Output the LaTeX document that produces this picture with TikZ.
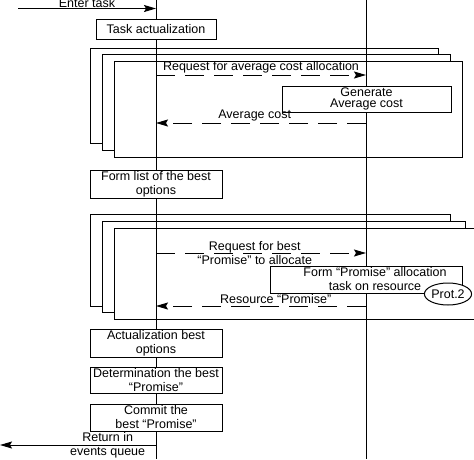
\documentclass[tikz,border=0pt]{standalone}
\usepackage{fontspec}
\setmainfont{Liberation Sans}
\usetikzlibrary{shapes,arrows.meta,positioning}

\begin{document}
\begin{tikzpicture}[x=1pt,y=-1pt]
        \tikzstyle{every path}=[line width=1pt]

        \tikzstyle{frame}=[draw,fill=white]
        \tikzstyle{act}=[draw,fill=white,inner sep=0pt,minimum width=132pt,minimum height=28pt]
        \tikzstyle{txt}=[draw=none,align=center,inner sep=0pt,font=\fontsize{12.5}{14}\selectfont]
        \tikzstyle{lbl}=[txt,inner sep=1.5pt]
        \tikzstyle{msg}=[-{Stealth[length=12pt,width=7pt,inset=2pt]}]
        \tikzstyle{dmsg}=[msg,dash pattern=on 19pt off 10pt]

        \useasboundingbox (0,0) rectangle (474,459);

        % stacked frames (loops)
        \foreach \i in {0,1,2} {
            \draw[frame] (90+12*\i,48+6.5*\i) rectangle (438+12*\i,143+7*\i);
            \draw[frame] (90+12*\i,214+7*\i) rectangle (450+15*\i,306+6.5*\i);
        };

        % lifelines
        \coordinate (l1top) at (156,0);
        \coordinate (l1bot) at (156,459);
        \coordinate (l2top) at (366,0);
        \coordinate (l2bot) at (366,459);
        \draw (l1top) -- (l1bot);
        \draw (l2top) -- (l2bot);

        % actions
        \node[act,minimum width=120pt,minimum height=20pt] at (156,29) (task) {};
        \node[txt] at (task.center) (task_label) {Task actualization};
        \node[act,minimum width=169pt,minimum height=26pt] at (366.5,99) (gen) {};
        \node[txt,font=\fontsize{12.5}{11}\selectfont] at (gen.center) (gen_label) {Generate\\Average cost};
        \node[act] at (156,184) (list) {};
        \node[txt] at (list.center) (list_label) {Form list of the best\\options};
        \node[act,minimum width=192pt,minimum height=27pt] at (366,279.5) (prom) {};
        \node[txt] at ([xshift=9pt]prom.center) (prom_label) {Form “Promise” allocation\\task on resource};
        \node[ellipse,draw,fill=white,inner sep=0pt,minimum width=40pt,minimum height=22pt,font=\fontsize{12.5}{14}\selectfont] at (448,294) (prot) {Prot.2};
        \node[act] at (156,343) (actual) {};
        \node[txt] at (actual.center) (actual_label) {Actualization best\\options};
        \node[act,minimum height=26pt] at (156,380) (determ) {};
        \node[txt] at (determ.center) (determ_label) {Determination the best\\“Promise”};
        \node[act,minimum height=27pt] at (156,417.5) (commit) {};
        \node[txt] at (commit.center) (commit_label) {Commit the\\best “Promise”};

        % message ends
        \coordinate (enter_s) at (18,8.5);   \coordinate (enter_e) at (156,8.5);
        \coordinate (req_s) at (156,75);     \coordinate (req_e) at (366,75);
        \coordinate (avg_s) at (366,123);    \coordinate (avg_e) at (156,123);
        \coordinate (best_s) at (156,253);   \coordinate (best_e) at (366,253);
        \coordinate (res_s) at (366,306);    \coordinate (res_e) at (156,306);
        \coordinate (ret_s) at (156,445);    \coordinate (ret_e) at (0,445);

        \draw[msg]  (enter_s) -- node[lbl,above,inner sep=0.5pt] {Enter task} (enter_e);      % in
        \draw[dmsg] (req_s) -- node[lbl,above] {Request for average cost allocation} (req_e); % 1->2
        \draw[dmsg] (avg_s) -- node[lbl,above,pos=0.53] {Average cost} (avg_e);               % 2->1
        \draw[dmsg] (best_s) -- node[lbl,pos=0.47] {Request for best\\“Promise” to allocate} (best_e); % 1->2
        \draw[dmsg] (res_s) -- node[lbl,above,pos=0.43] {Resource “Promise”} (res_e);        % 2->1
        \draw[msg]  (ret_s) -- node[lbl,pos=0.31] {Return in\\events queue} (ret_e);         % out
\end{tikzpicture}
\end{document}
